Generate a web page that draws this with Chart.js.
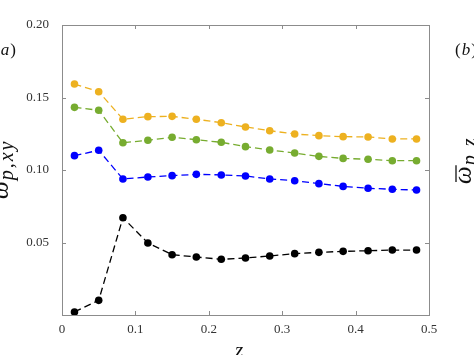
<!DOCTYPE html>
<html>
<head>
<meta charset="utf-8">
<script src="https://cdn.jsdelivr.net/npm/chart.js@4"></script>
<style>
  html, body { margin: 0; padding: 0; background: #fff; }
  #wrap { width: 474px; height: 355px; }
</style>
</head>
<body>
<div id="wrap"><canvas id="c" width="474" height="355"></canvas></div>
<script>
// ---- data ----
const zValues = [0.017, 0.05, 0.083, 0.117, 0.15, 0.183, 0.217, 0.25, 0.283, 0.317, 0.35, 0.383, 0.417, 0.45, 0.483];
const yellowSeries = [0.1593, 0.1540, 0.1350, 0.1368, 0.1370, 0.1350, 0.1326, 0.1297, 0.1271, 0.1248, 0.1237, 0.1230, 0.1228, 0.1214, 0.1214];
const greenSeries  = [0.1432, 0.1412, 0.1188, 0.1205, 0.1226, 0.1209, 0.1191, 0.1161, 0.1138, 0.1117, 0.1094, 0.1080, 0.1074, 0.1064, 0.1064];
const blueSeries   = [0.1099, 0.1136, 0.0938, 0.0952, 0.0961, 0.0970, 0.0966, 0.0959, 0.0938, 0.0926, 0.0906, 0.0887, 0.0874, 0.0867, 0.0862];
const blackSeries  = [0.0021, 0.0101, 0.0671, 0.0497, 0.0416, 0.0400, 0.0384, 0.0393, 0.0407, 0.0423, 0.0432, 0.0439, 0.0443, 0.0448, 0.0448];
const seriesColors = ['#EDB120', '#77AC30', '#0000FF', '#000000'];
const xTickLabels = ['0', '0.1', '0.2', '0.3', '0.4', '0.5'];
const yTickLabels = ['', '0.05', '0.10', '0.15', '0.20'];

const SERIF = '"Liberation Serif", "DejaVu Serif", serif';
const AXIS_GRAY = '#8c8c8c';

function mkDataset(vals, color) {
  return {
    data: zValues.map((z, i) => ({ x: z, y: vals[i] })),
    borderColor: color,
    backgroundColor: color,
    borderWidth: 1.3,
    borderDash: [7, 4],
    pointRadius: 3.8,
    pointBorderWidth: 0,
    pointBackgroundColor: color,
    tension: 0,
    fill: false
  };
}

const frame = {
  id: 'frame',
  afterDatasetsDraw(chart) {
    const { ctx, chartArea: a, scales } = chart;
    ctx.save();
    ctx.strokeStyle = AXIS_GRAY;
    ctx.lineWidth = 1;
    ctx.strokeRect(Math.round(a.left) + 0.5, Math.round(a.top) + 0.5,
                   Math.round(a.right - a.left), Math.round(a.bottom - a.top));
    const L = 4;
    ctx.beginPath();
    scales.x.ticks.forEach(t => {
      const px = Math.round(scales.x.getPixelForValue(t.value)) + 0.5;
      if (px <= a.left + 1 || px >= a.right - 1) return;
      ctx.moveTo(px, a.bottom); ctx.lineTo(px, a.bottom - L);
      ctx.moveTo(px, a.top); ctx.lineTo(px, a.top + L);
    });
    scales.y.ticks.forEach(t => {
      const py = Math.round(scales.y.getPixelForValue(t.value)) + 0.5;
      if (py <= a.top + 1 || py >= a.bottom - 1) return;
      ctx.moveTo(a.left, py); ctx.lineTo(a.left + L, py);
      ctx.moveTo(a.right, py); ctx.lineTo(a.right - L, py);
    });
    ctx.stroke();

    // panel labels and axis titles
    ctx.fillStyle = '#111';
    ctx.textBaseline = 'alphabetic';
    function panel(letter, x, y, align) {
      ctx.font = '17px ' + SERIF;
      const w1 = ctx.measureText('(').width;
      ctx.font = 'italic 17px ' + SERIF;
      const w2 = ctx.measureText(letter).width;
      ctx.font = '17px ' + SERIF;
      const w3 = ctx.measureText(')').width;
      let sx = align === 'right' ? x - (w1 + w2 + w3) : x;
      ctx.font = '17px ' + SERIF; ctx.fillText('(', sx, y);
      ctx.font = 'italic 17px ' + SERIF; ctx.fillText(letter, sx + w1 + 1, y);
      ctx.font = '17px ' + SERIF; ctx.fillText(')', sx + w1 + w2 + 2, y);
    }
    panel('a', 14, 55, 'right');
    panel('b', 455, 55, 'left');

    function omegaLabel(bx, by, sub) {
      ctx.save();
      ctx.translate(bx, by);
      ctx.rotate(-Math.PI / 2);
      ctx.font = 'italic 25px ' + SERIF;
      const w = ctx.measureText('ω').width;
      ctx.fillText('ω', 0, 0);
      ctx.lineWidth = 1.3;
      ctx.strokeStyle = '#111';
      ctx.beginPath();
      ctx.moveTo(2, -15); ctx.lineTo(w + 1, -15);
      ctx.stroke();
      ctx.font = 'italic 20px ' + SERIF;
      let sx = w + 1;
      for (const ch of sub) {
        ctx.fillText(ch, sx, 5);
        sx += ctx.measureText(ch).width + 2;
      }
      ctx.restore();
    }
    omegaLabel(8, 199, 'p,xy');
    omegaLabel(471, 184, 'p,z');

    ctx.font = 'italic 21px ' + SERIF;
    ctx.textAlign = 'center';
    ctx.fillText('z', 239, 357);
    ctx.restore();
  }
};

new Chart(document.getElementById('c'), {
  type: 'line',
  data: {
    datasets: [
      mkDataset(yellowSeries, seriesColors[0]),
      mkDataset(greenSeries, seriesColors[1]),
      mkDataset(blueSeries, seriesColors[2]),
      mkDataset(blackSeries, seriesColors[3])
    ]
  },
  options: {
    responsive: false,
    animation: false,
    devicePixelRatio: 1,
    layout: { padding: { left: 0, top: 25, right: 45, bottom: 0 } },
    plugins: { legend: { display: false }, tooltip: { enabled: false } },
    scales: {
      x: {
        type: 'linear', min: 0, max: 0.5,
        grid: { display: false }, border: { display: false },
        ticks: {
          stepSize: 0.1, padding: 0, color: '#333', maxRotation: 0,
          font: { family: SERIF, size: 13, lineHeight: 1 },
          callback: (v) => xTickLabels[Math.round(v * 10)]
        },
        afterFit: (s) => { s.height = 40; }
      },
      y: {
        type: 'linear', min: 0, max: 0.2,
        grid: { display: false }, border: { display: false },
        ticks: {
          stepSize: 0.05, padding: 5, color: '#333',
          font: { family: SERIF, size: 13 },
          callback: (v) => yTickLabels[Math.round(v * 20)]
        },
        afterFit: (s) => { s.width = 62; }
      }
    }
  },
  plugins: [frame]
});
</script>
</body>
</html>
